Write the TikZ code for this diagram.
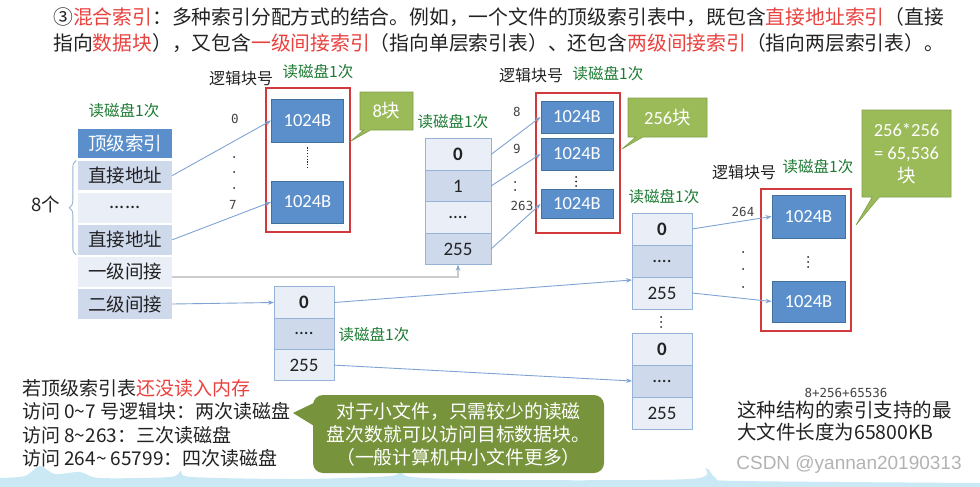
\documentclass[tikz,border=0pt]{standalone}
\usepackage{fontspec}
\setmainfont{Carlito}
\newfontfamily\cjk{Noto Sans CJK SC}
\newfontfamily\mono{DejaVu Sans Mono}
\newfontfamily\wm{Liberation Sans}
\usetikzlibrary{arrows.meta, shapes.callouts, positioning, calc,
                decorations.pathreplacing}

\definecolor{blkblue}{HTML}{5B8FCB}
\definecolor{blkedge}{HTML}{41719C}
\definecolor{boxred}{HTML}{D2383C}
\definecolor{rowlight}{HTML}{E9EEF7}
\definecolor{rowmid}{HTML}{CFD9EC}
\definecolor{rowedge}{HTML}{95B3D7}
\definecolor{ptrblue}{HTML}{7FA3D3}
\definecolor{readgreen}{HTML}{1E7B34}
\definecolor{callgreen}{HTML}{9BBB59}
\definecolor{calledge}{HTML}{7F9F4A}
\definecolor{notegreen}{HTML}{77933C}
\definecolor{hired}{HTML}{E8413E}
\definecolor{wave}{HTML}{CBE9F5}
\definecolor{ink}{HTML}{222222}

\newcommand{\fsz}[2]{\fontsize{#1}{#2}\selectfont}

\tikzset{
  idx/.style={rectangle, minimum width=94pt, minimum height=29.7pt,
              inner sep=0pt, text=ink, font=\cjk\fsz{18.5}{22}},
  cell/.style={rectangle, draw=rowedge, line width=1pt, minimum width=66pt,
               minimum height=31.5pt, inner sep=0pt, outer sep=0pt,
               text=ink, font=\fsz{19}{22}},
  blk/.style={rectangle, fill=blkblue, draw=blkedge, line width=0.8pt,
              minimum width=72pt, text=white, font=\fsz{18.5}{22}},
  redbox/.style={rectangle, draw=boxred, line width=2pt},
  ptr/.style={draw=ptrblue, line width=0.9pt, -{Stealth[length=6pt,width=4.5pt]}},
  rd/.style={text=readgreen, font=\cjk\fsz{15.5}{18}},
  lbl/.style={text=ink, font=\cjk\fsz{16}{18}},
  num/.style={text=ink!85, font=\mono\fsz{12.5}{14}},
  call/.style={rectangle callout, fill=callgreen, draw=calledge, line width=0.6pt,
               text=white, inner sep=0pt, align=center, font=\fsz{18.5}{23}},
  txt/.style={anchor=west, text=ink, inner sep=0pt, font=\cjk\fsz{19}{22}},
  note/.style={rectangle, fill=notegreen, rounded corners=10pt, text=white,
               minimum width=291pt, minimum height=78pt, align=center,
               font=\cjk\fsz{18.8}{23}},
  densedots/.style={line width=1.4pt, dash pattern=on 1.2pt off 1.6pt, ink}
}

\begin{document}
\begin{tikzpicture}[x=1pt, y=-1pt]
\useasboundingbox (0,0) rectangle (980,487);

% 底部波浪
\fill[wave] plot[smooth] coordinates {(0,478) (25,476) (40,466) (55,474) (80,472)
  (100,478) (170,477) (181,471) (192,477) (300,479) (390,476) (400,470) (412,477)
  (500,480) (690,479) (706,468) (716,478) (740,481) (980,483)}
  -- (980,487) -- (0,487) -- cycle;

% 标题
\node[anchor=west, inner sep=0pt, text=ink, font=\cjk\fsz{19.8}{24}] (t1) at (53,17)
  {③\textcolor{hired}{混合索引}：多种索引分配方式的结合。例如，一个文件的顶级索引表中，既包含\textcolor{hired}{直接地址索引}（直接};
\node[anchor=west, inner sep=0pt, text=ink, font=\cjk\fsz{19.8}{24}] (t2) at (53,43)
  {指向\textcolor{hired}{数据块}），又包含\textcolor{hired}{一级间接索引}（指向单层索引表）、还包含\textcolor{hired}{两级间接索引}（指向两层索引表）。};

% 顶级索引表
\node[rd] (rtop) at (124,111) {读磁盘1次};
\node[idx, fill=blkblue, text=white] (top) at (125,143.5) {顶级索引};
\node[idx, fill=rowmid, below=2pt of top] (d1) {直接地址};
\node[idx, fill=rowlight, below=2pt of d1] (dd) {......};
\node[idx, fill=rowmid, below=2pt of dd] (d2) {直接地址};
\node[idx, fill=rowlight, below=2pt of d2] (i1) {一级间接};
\node[idx, fill=rowmid, below=2pt of i1] (i2) {二级间接};
\draw[rowedge, line width=0.9pt, decorate, decoration={brace, amplitude=7pt}]
  ([xshift=-1.5pt]d2.south west) -- ([xshift=-1.5pt]d1.north west);
\node[text=ink, font=\cjk\fsz{18.5}{22}] (cnt) at (46,204) {8个};

% 直接地址 -> 数据块
\node[lbl] (lg1) at (241,78) {逻辑块号};
\node[rd] (r1) at (318,72) {读磁盘1次};
\node[redbox, minimum width=84pt, minimum height=144pt] (rb1) at (308,160) {};
\node[blk, minimum height=43pt] (b1) at (307.5,120.5) {1024B};
\node[blk, minimum height=42pt] (b2) at (307.5,202) {1024B};
\draw[densedots] ([yshift=-5pt]b1.south) -- ([yshift=11pt]b2.north);
\node[num] (n0) at (235,119) {0};
\node[num] (n7) at (233,205) {7};
\foreach \y in {157,172,188} \fill[ink] (234,\y) circle (1pt);
\draw[ptr] (d1.east) -- (b1.west);
\draw[ptr] (d2.east) -- (b2.west);
\coordinate (p8) at (351,141);
\node[call, minimum width=53pt, minimum height=38pt, callout absolute pointer={(p8)}]
  (c8) at (386.5,111) {8{\cjk 块}};

% 一级间接
\node[rd] (r2) at (453,122) {读磁盘1次};
\node[cell, fill=rowlight] (l0) at (458,154.5) {\textbf{0}};
\node[cell, fill=rowmid, below=0pt of l0] (l1) {1};
\node[cell, fill=rowlight, below=0pt of l1] (l2) {....};
\node[cell, fill=rowmid, below=0pt of l2] (l3) {255};
\draw[draw=gray!40, line width=1.2pt, -{Stealth[length=6pt,width=4.5pt,ptrblue]}]
  ([yshift=-5pt]i1.east) -| (l3.south);

\node[lbl] (lg2) at (531,75) {逻辑块号};
\node[rd] (r3) at (608,74) {读磁盘1次};
\node[redbox, minimum width=84pt, minimum height=140pt] (rb2) at (578,163) {};
\node[blk, minimum height=32pt] (c1) at (577,117) {1024B};
\node[blk, minimum height=32pt] (c2) at (577,154) {1024B};
\node[blk, minimum height=29pt] (c3) at (577,204) {1024B};
\foreach \y in {177,181.5,186} \fill[ink] (576,\y) circle (1pt);
\node[num] (n8) at (517,112) {8};
\node[num] (n9) at (517,149) {9};
\foreach \y in {182,190} \fill[ink] (515,\y) circle (1pt);
\node[num] (n263) at (522,206) {263};
\draw[ptr] (l0.east) -- (c1.west);
\draw[ptr] (l1.east) -- (c2.west);
\draw[ptr] (l3.east) -- (c3.west);
\coordinate (p256) at (622,149);
\node[call, minimum width=79pt, minimum height=39pt, callout absolute pointer={(p256)}]
  (c256) at (667.5,117.5) {256{\cjk 块}};

% 二级间接
\node[cell, minimum width=60pt, minimum height=31.3pt, fill=rowlight] (m0) at (304,302.5) {\textbf{0}};
\node[cell, minimum width=60pt, minimum height=31.3pt, fill=rowmid, below=0pt of m0] (m1) {....};
\node[cell, minimum width=60pt, minimum height=31.3pt, fill=rowlight, below=0pt of m1] (m2) {255};
\node[rd] (r4) at (374,335) {读磁盘1次};
\draw[ptr] (i2.east) -- (m0.west);

\node[rd] (r5) at (664,197) {读磁盘1次};
\node[cell, minimum width=60pt, minimum height=32pt, fill=rowlight] (a0) at (662,229) {\textbf{0}};
\node[cell, minimum width=60pt, minimum height=32pt, fill=rowmid, below=0pt of a0] (a1) {....};
\node[cell, minimum width=60pt, minimum height=32pt, fill=rowlight, below=0pt of a1] (a2) {255};
\foreach \y in {317,322,327} \fill[ink] (661,\y) circle (1pt);
\node[cell, minimum width=60pt, minimum height=32pt, fill=rowlight] (q0) at (662,349) {\textbf{0}};
\node[cell, minimum width=60pt, minimum height=32pt, fill=rowmid, below=0pt of q0] (q1) {....};
\node[cell, minimum width=60pt, minimum height=32pt, fill=rowlight, below=0pt of q1] (q2) {255};
\draw[ptr] (m0.east) -- ([yshift=-3pt]a2.north west);
\draw[ptr] (m2.east) -- (q1.west);

\node[lbl] (lg3) at (744,172) {逻辑块号};
\node[rd] (r6) at (818,167) {读磁盘1次};
\node[redbox, minimum width=90pt, minimum height=142pt] (rb3) at (806,260) {};
\node[blk, minimum width=73pt, minimum height=43pt] (e1) at (808.5,216.5) {1024B};
\node[blk, minimum width=73pt, minimum height=41pt] (e2) at (808.5,301.5) {1024B};
\foreach \y in {257,262,267} \fill[ink] (808,\y) circle (1pt);
\node[num] (n264) at (743,212) {264};
\foreach \y in {252,269,287} \fill[ink] (743,\y) circle (1pt);
\draw[ptr] (a0.east) -- (e1.west);
\draw[ptr] (a2.east) -- (e2.west);
\coordinate (pbig) at (856,225);
\node[call, minimum width=89pt, minimum height=87pt, callout absolute pointer={(pbig)}]
  (cbig) at (906.5,153.5) {256*256\\= 65,536\\{\cjk 块}};

% 说明文字
\node[txt] (s1) at (22,388) {若顶级索引表\textcolor{hired}{还没读入内存}};
\node[txt] (s2) at (22,411) {访问 0\textasciitilde7 号逻辑块：两次读磁盘};
\node[txt] (s3) at (22,435) {访问 8\textasciitilde263：三次读磁盘};
\node[txt] (s4) at (22,458) {访问 264\textasciitilde{} 65799：四次读磁盘};

\node[note] (tip) at (458.5,434) {对于小文件，只需较少的读磁\\盘次数就可以访问目标数据块。\\（一般计算机中小文件更多）};
\coordinate (tp) at (293,413);
\fill[notegreen] ([xshift=3pt,yshift=32pt]tip.west) -- (tp) -- ([xshift=3pt,yshift=7pt]tip.west) -- cycle;

\node[num] (sum) at (846,393) {8+256+65536};
\node[txt, font=\cjk\fsz{19.5}{22}] (big1) at (737,410) {这种结构的索引支持的最};
\node[txt, font=\cjk\fsz{19.5}{22}] (big2) at (737,432) {大文件长度为65800KB};
\node[text=gray!60, font=\wm\fsz{19}{22}] (wmk) at (849,465) {CSDN @yannan20190313};
\end{tikzpicture}
\end{document}
